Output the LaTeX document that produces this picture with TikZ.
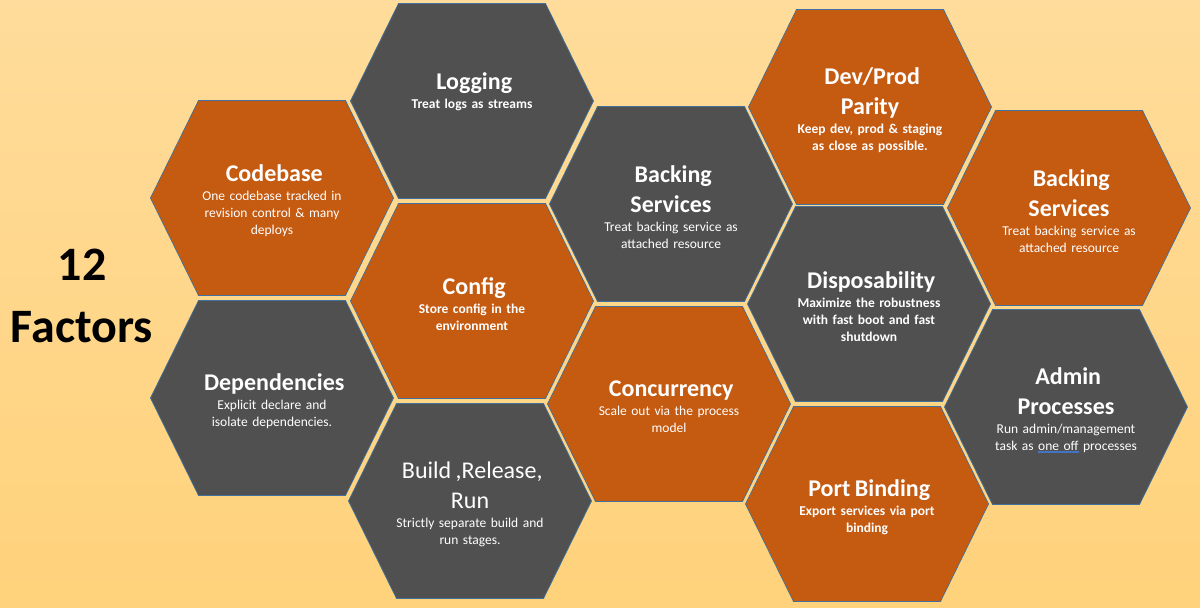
\documentclass[tikz,border=0pt]{standalone}
\usepackage{fontspec}
\setmainfont{Carlito}
\usepackage{tikz}
\usetikzlibrary{positioning}
\definecolor{bgtop}{HTML}{FFDC9B}
\definecolor{bgbottom}{HTML}{FFD27B}
\definecolor{factororange}{HTML}{C55A11}
\definecolor{factorgray}{HTML}{505050}
\definecolor{hexedge}{HTML}{41719C}
\definecolor{gramblue}{HTML}{4472C4}
\newcommand{\ftitle}[2][\bfseries]{{\fontsize{24}{30}\selectfont#1 #2\par}\vspace{2pt}}
\newcommand{\gramline}[1]{\setbox0\hbox{#1}\rlap{\textcolor{gramblue}{\rule[-2.6pt]{\wd0}{1.4pt}}}#1}

\begin{document}
\begin{tikzpicture}[x=1pt,y=1pt]
  \tikzset{hexagon/.style={draw=hexedge, line width=0.7pt}, factor/.style={text=white, text width=220pt, align=center, inner sep=0pt, yshift=-3pt, font=\fontsize{13.5}{17}\selectfont}, factor strong/.style={factor, font=\fontsize{13.5}{17}\selectfont\bfseries}}
  \useasboundingbox (0,0) rectangle (1200,608);
  \shade[top color=bgtop, bottom color=bgbottom] (0,0) rectangle (1200,608);
  \foreach \nm/\hx/\hy/\hc in {codebase/272/410/factororange, depend/272/210/factorgray, logging/472/507/factorgray, config/472/307/factororange, build/470/107/factorgray, backing/671/404/factorgray, concur/669/204/factororange, devprod/870/501/factororange, dispose/869/304/factorgray, port/867/104/factororange, backingb/1069/400/factororange, admin/1066/201/factorgray}{
    \coordinate (\nm) at (\hx,\hy);
    \draw[hexagon, fill=\hc] (\hx-121.5,\hy) -- ++(48,97.5) -- ++(147,0) -- ++(48,-97.5) -- ++(-48,-97.5) -- ++(-147,0) -- cycle;
  }
  \node[align=center, inner sep=0pt, font=\fontsize{48}{62}\selectfont\bfseries] (title) at (82,312) {12\\Factors};
  \node[factor] (codebase-txt) at (codebase) {\ftitle{Codebase}One codebase tracked in\\revision control \& many\\deploys};
  \node[factor strong, yshift=12pt] (logging-txt) at (logging) {\ftitle{Logging}Treat logs as streams};
  \node[factor strong] (config-txt) at (config) {\ftitle{Config}Store config in the\\environment};
  \node[factor] (depend-txt) at (depend) {\ftitle{Dependencies}Explicit declare and\\isolate dependencies.};
  \node[factor] (build-txt) at (build) {\ftitle[\mdseries]{Build ,Release,\\Run}Strictly separate build and\\run stages.};
  \node[factor] (backing-txt) at (backing) {\ftitle{Backing\\Services}Treat backing service as\\attached resource};
  \node[factor] (concur-txt) at (concur) {\ftitle{Concurrency}Scale out via the process\\model};
  \node[factor strong] (devprod-txt) at (devprod) {\ftitle{Dev/Prod\\Parity}Keep dev, prod \& staging\\as close as possible.};
  \node[factor strong] (dispose-txt) at (dispose) {\ftitle{Disposability}Maximize the robustness\\with fast boot and fast\\shutdown};
  \node[factor strong] (port-txt) at (port) {\ftitle{Port Binding}Export services via port\\binding};
  \node[factor] (backingb-txt) at (backingb) {\ftitle{Backing\\Services}Treat backing service as\\attached resource};
  \node[factor] (admin-txt) at (admin) {\ftitle{Admin\\Processes}Run admin/management\\task as \gramline{one off} processes};
\end{tikzpicture}
\end{document}
